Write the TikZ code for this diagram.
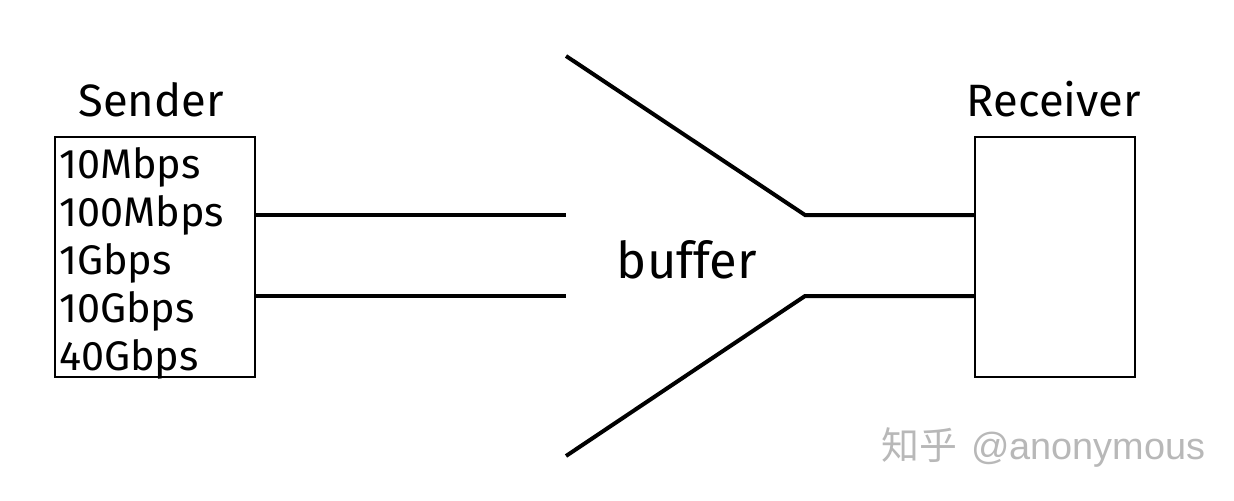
\documentclass[tikz,border=0pt]{standalone}
\usepackage{fontspec}
\setmainfont{Fira Sans}
\newfontfamily\cjk{Noto Sans CJK SC}
\newfontfamily\markfont{Liberation Sans}
\usetikzlibrary{positioning,calc}

\begin{document}
\begin{tikzpicture}[x=0.75pt, y=-0.75pt,
        box/.style={draw=black, line width=1.5pt, inner sep=0pt, outer sep=0pt},
        wire/.style={-, line width=3pt, black},
        rate/.style={font=\fontsize{31}{31}\selectfont, anchor=base west, inner sep=0pt},
        title/.style={font=\fontsize{34}{34}\selectfont, anchor=base, inner sep=0pt}]
        \useasboundingbox (0,0) rectangle (1234,500);
        \node[box, minimum width=150pt, minimum height=180pt, anchor=north west] (sender) at (55,137) {};
        \node[box, minimum width=120pt, minimum height=180pt, anchor=north west] (receiver) at (975,137) {};
        \node[title] (sendertitle) at (151,116) {Sender};
        \node[title] (receivertitle) at (1054,116) {Receiver};
        \foreach \y/\t in {178/10Mbps, 226/100Mbps, 274/1Gbps, 322/10Gbps, 370/40Gbps} {
          \node[rate] (rate\y) at (59,\y) {\t};
        };
        \node[title, font=\fontsize{38}{38}\selectfont] (buffer) at (687,278) {buffer};
        \coordinate (topin) at (566,215);
        \coordinate (botin) at (566,296);
        \coordinate (topthroat) at (805,215);
        \coordinate (botthroat) at (805,296);
        \coordinate (topmouth) at (566,56);
        \coordinate (botmouth) at (566,456);
        \coordinate (sendertop) at (sender.east |- topin);
        \coordinate (senderbot) at (sender.east |- botin);
        \coordinate (receivertop) at (receiver.west |- topin);
        \coordinate (receiverbot) at (receiver.west |- botin);
        \draw[wire] (sendertop) -- (topin);
        \draw[wire] (senderbot) -- (botin);
        \draw[wire] (topmouth) -- (topthroat) -- (receivertop);
        \draw[wire] (botmouth) -- (botthroat) -- (receiverbot);
        \node[anchor=base west, inner sep=0pt, text=black!28, font=\fontsize{28.4}{28.4}\selectfont] (mark) at (881,459) {{\cjk 知乎} \hspace{3pt}{\markfont @anonymous}};
      \end{tikzpicture}
\end{document}
